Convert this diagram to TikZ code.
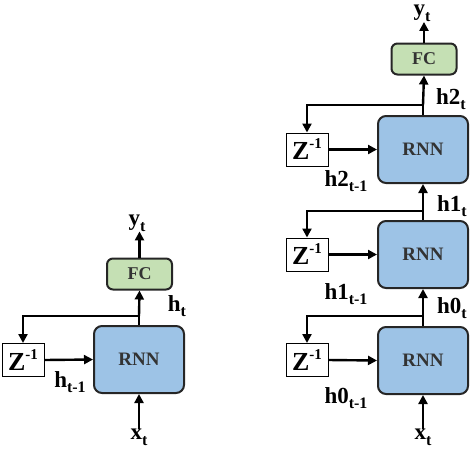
\documentclass[tikz,border=0pt]{standalone}
\usepackage{fontspec}
\setmainfont{Liberation Serif}
\usetikzlibrary{arrows.meta}
\definecolor{rnnblue}{RGB}{157,195,230}
\definecolor{fcgreen}{RGB}{197,224,180}
\newcommand\sbs[1]{\raisebox{-0.25em}{\fontsize{16}{16}\selectfont #1}}
\newcommand\sps[1]{\raisebox{0.42em}{\fontsize{15}{15}\selectfont #1}}
\begin{document}
\begin{tikzpicture}[x=1pt,y=-1pt,
 rnnbox/.style={draw=black!85, line width=2pt, fill=rnnblue, rounded corners=8pt, minimum width=90pt, minimum height=67pt, inner sep=0pt, font=\fontsize{19}{19}\selectfont\bfseries, text=black!80},
 fcbox/.style={draw=black!85, line width=2pt, fill=fcgreen, rounded corners=6pt, minimum width=65pt, minimum height=31pt, inner sep=0pt, font=\fontsize{18}{18}\selectfont\bfseries, text=black!80},
 zbox/.style={draw, line width=1pt, fill=white, minimum width=42pt, minimum height=33pt, inner sep=0pt, font=\fontsize{26}{26}\selectfont\bfseries},
 lbl/.style={inner sep=0pt, font=\fontsize{23}{23}\selectfont\bfseries},
 arr/.style={line width=2.4pt, -{Triangle[length=9pt,width=9pt]}},
 ln/.style={line width=2.4pt}]
\useasboundingbox (0,0) rectangle (474,451);
% ---------- left diagram ----------
\node[rnnbox] (rL) at (139,359.5) {RNN};
\node[fcbox] (fL) at (139.5,274) {FC};
\node[zbox] (zL) at (23,360) {Z\sps{-1}};
\node[lbl] (yL) at (137,223) {y\sbs{t}};
\node[lbl] (xL) at (139,437) {x\sbs{t}};
\node[lbl] (hL) at (177,306) {h\sbs{t}};
\node[lbl] (hpL) at (70,382) {h\sbs{t-1}};
\coordinate (bL) at (139,316);
\draw[ln] (rL.north) -- (bL);
\draw[arr] (bL) -- (fL.south);
\draw[arr] (bL) -| (zL.north);
\draw[arr] (fL.north) -- (yL.south -| fL.north);
\draw[arr] (xL.north -| rL.south) -- (rL.south);
\draw[arr] (zL.east) -- (rL.west);
% ---------- right diagram ----------
\node[fcbox] (fR) at (424,59) {FC};
\node[rnnbox] (r2) at (423,149.5) {RNN};
\node[rnnbox] (r1) at (423,254.5) {RNN};
\node[rnnbox] (r0) at (423,360.5) {RNN};
\node[zbox] (z2) at (307,149.5) {Z\sps{-1}};
\node[zbox] (z1) at (307,254.5) {Z\sps{-1}};
\node[zbox] (z0) at (307,360) {Z\sps{-1}};
\node[lbl] (yR) at (422,13.5) {y\sbs{t}};
\node[lbl] (xR) at (423,437) {x\sbs{t}};
\node[lbl] (h2) at (451,99) {h2\sbs{t}};
\node[lbl] (h1) at (452,206) {h1\sbs{t}};
\node[lbl] (h0) at (452,308) {h0\sbs{t}};
\node[lbl] (hp2) at (346,181) {h2\sbs{t-1}};
\node[lbl] (hp1) at (346,294) {h1\sbs{t-1}};
\node[lbl] (hp0) at (346,398) {h0\sbs{t-1}};
\coordinate (b2) at (423,105);
\coordinate (b1) at (423,211);
\coordinate (b0) at (423,316);
\draw[arr] (fR.north) -- (yR.south -| fR.north);
\draw[ln] (r2.north) -- (b2);
\draw[arr] (b2) -- (fR.south);
\draw[arr] (b2) -| (z2.north);
\draw[ln] (r1.north) -- (b1);
\draw[arr] (b1) -- (r2.south);
\draw[arr] (b1) -| (z1.north);
\draw[ln] (r0.north) -- (b0);
\draw[arr] (b0) -- (r1.south);
\draw[arr] (b0) -| (z0.north);
\draw[arr] (xR.north -| r0.south) -- (r0.south);
\draw[arr] (z2.east) -- (r2.west);
\draw[arr] (z1.east) -- (r1.west);
\draw[arr] (z0.east) -- (r0.west);
\end{tikzpicture}
\end{document}
